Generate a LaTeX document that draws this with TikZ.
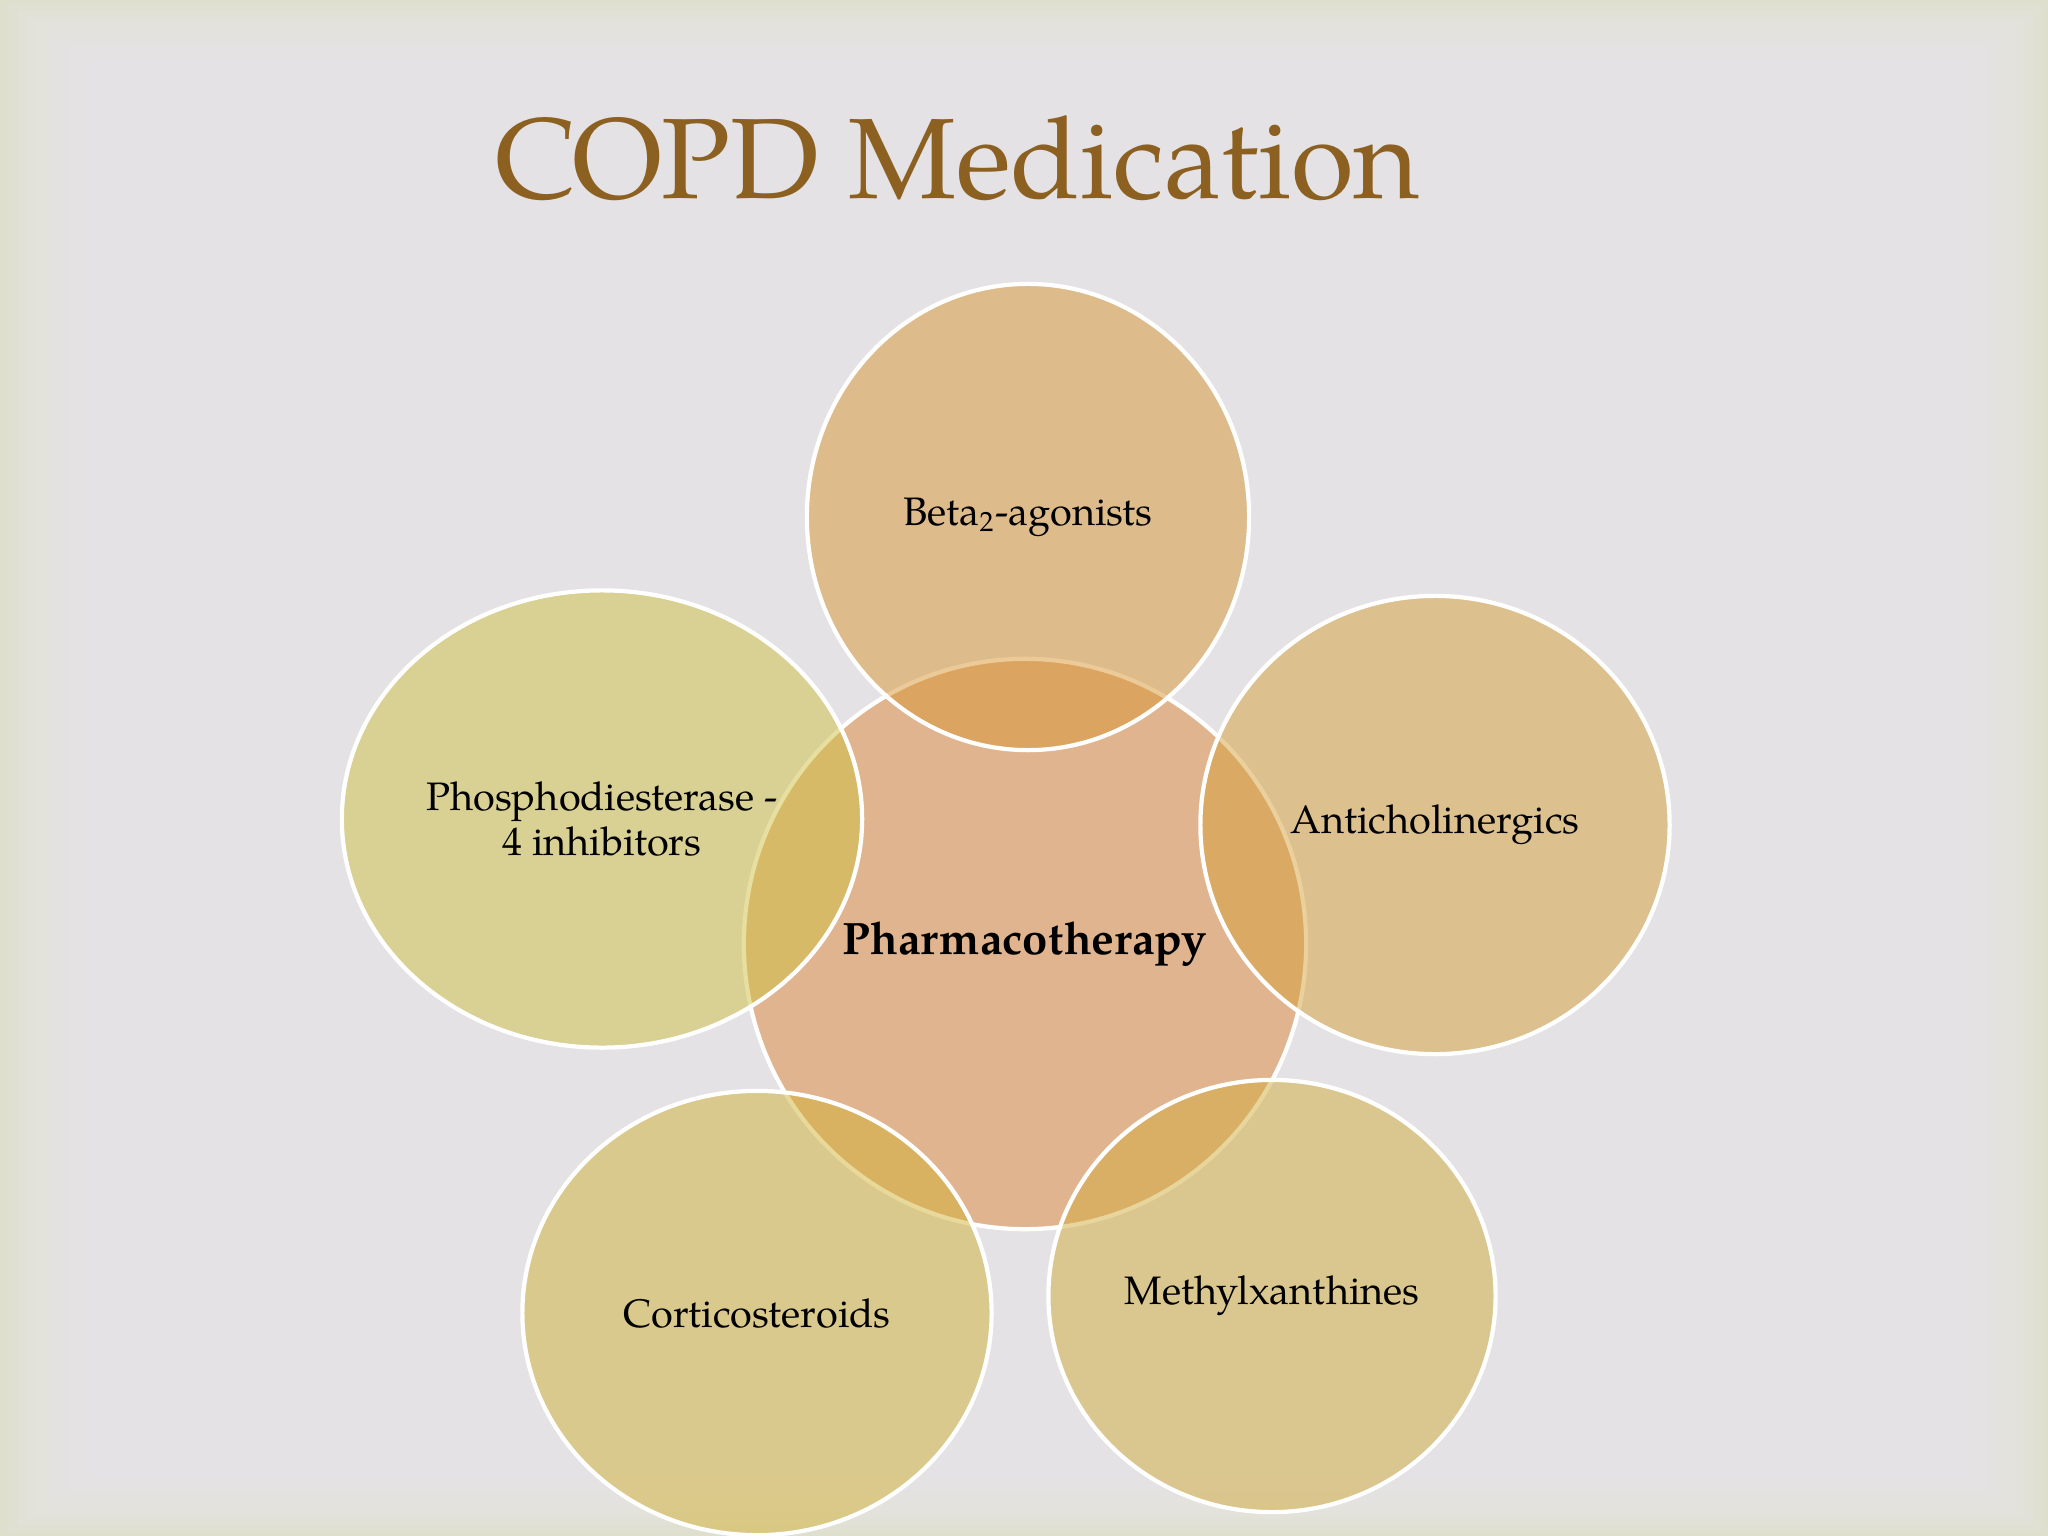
\documentclass[tikz,border=0pt]{standalone}
\usepackage{fontspec}
\setmainfont{TeX Gyre Pagella}
\usetikzlibrary{shapes.geometric}
\definecolor{bgG}{RGB}{222,223,204}
\definecolor{bgI}{RGB}{232,230,233}
\definecolor{titleC}{RGB}{140,96,32}
\definecolor{cCenter}{RGB}{224,180,142}
\definecolor{cBeta}{RGB}{216,150,51}
\definecolor{cAnti}{RGB}{214,162,59}
\definecolor{cMeth}{RGB}{210,172,59}
\definecolor{cCort}{RGB}{210,178,53}
\definecolor{cPde}{RGB}{208,192,67}
\tikzset{
  hub/.style={ellipse, draw=white, line width=1.2pt, fill=cCenter, inner sep=0pt, align=center, font=\fontsize{12.9}{15}\selectfont\bfseries},
  petal/.style={ellipse, draw=white, line width=1.2pt, fill opacity=0.5, text opacity=1, draw opacity=1, inner sep=0pt, align=center, font=\fontsize{11.3}{12.6}\selectfont},
}
\begin{document}
\begin{tikzpicture}[x=0.01cm, y=-0.01cm]
\useasboundingbox (0,0) rectangle (2048,1536);
\fill[bgG] (0,0) rectangle (2048,1536);
\foreach \i in {0,...,13} {
  \fill[bgI, fill opacity=0.22] (8+10*\i, 4+7*\i) rectangle (2042-9*\i, 1532-7*\i);
}
\node[text=titleC, font=\fontsize{32.5}{38}\selectfont, anchor=base] (title) at (958,198) {COPD Medication};
\node[hub, minimum width=5.62cm, minimum height=5.70cm] (hub) at (1025,944) {Pharmacotherapy};
\node[petal, fill=cBeta, minimum width=4.42cm, minimum height=4.66cm] (beta) at (1028,517) {Beta\textsubscript{2}-agonists};
\node[petal, fill=cAnti, minimum width=4.69cm, minimum height=4.58cm] (anti) at (1435,825) {Anticholinergics};
\node[petal, fill=cMeth, minimum width=4.47cm, minimum height=4.32cm] (meth) at (1272,1296) {Methylxanthines};
\node[petal, fill=cCort, minimum width=4.69cm, minimum height=4.44cm] (cort) at (757,1313) {Corticosteroids};
\node[petal, fill=cPde, minimum width=5.20cm, minimum height=4.57cm] (pde) at (602,819) {Phosphodiesterase -\\4 inhibitors};
\end{tikzpicture}
\end{document}
